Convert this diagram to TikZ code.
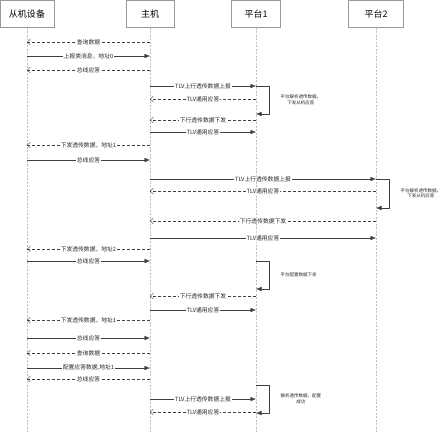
\documentclass[tikz,border=0pt]{standalone}
\usepackage{fontspec}
\setmainfont{Noto Sans CJK SC}
\usetikzlibrary{arrows.meta,calc}
\tikzset{
  actor/.style={draw=gray!80,fill=white,minimum height=27pt,inner sep=1pt,font=\fontsize{9}{10}\selectfont},
  life/.style={gray!50,dash pattern=on 2pt off 1.5pt,thin},
  call/.style={-{Latex[length=5.5pt,width=4.5pt]},black!75,thin},
  reply/.style={-{Straight Barb[length=3pt,width=5.5pt]},black!75,thin,dash pattern=on 3pt off 2pt},
  lbl/.style={fill=white,inner sep=0.8pt,font=\fontsize{5.8}{6}\selectfont,text=black!85},
  note/.style={align=center,anchor=west,font=\fontsize{4.5}{5.5}\selectfont,text=black!85},
}
\newcommand{\msg}[5]{% style, from, to, y, text
  \draw[#1] (#2 |- 0,#4) -- (#3 |- 0,#4) node[lbl,midway] {#5};
}
\newcommand{\selfloop}[4]{% lifeline, y1, y2, note
  \draw[call] (#1 |- 0,#2) -- ++(13,0) |- (#1 |- 0,#3);
  \node[note] at ($(#1 |- 0,#2)!0.5!(#1 |- 0,#3)+(21,0)$) {#4};
}

\begin{document}
\begin{tikzpicture}[x=1pt,y=-1pt]
  \useasboundingbox (0,0) rectangle (443,432);
  \foreach \n/\x/\w/\t in {slave/27/54/从机设备,host/150/48/主机,pa/256/49/平台1,pb/376/55/平台2}
    \node[actor,minimum width=\w pt] (\n) at (\x,13.8) {\t};
  \foreach \n in {slave,host,pa,pb}
    \draw[life] (\n.south) -- (\n |- 0,432);

  \msg{reply}{host}{slave}{42}{查询数据}
  \msg{call}{slave}{host}{56}{上报类消息，地址0}
  \msg{reply}{host}{slave}{70}{总线应答}
  \msg{call}{host}{pa}{86}{TLV上行透传数据上报}
  \msg{reply}{pa}{host}{99}{TLV通用应答}
  \selfloop{pa}{86}{114}{平台解析透传数据，\\下发从机应答}
  \msg{reply}{pa}{host}{120}{下行透传数据下发}
  \msg{call}{host}{pa}{132}{TLV通用应答}
  \msg{reply}{host}{slave}{145}{下发透传数据，地址1}
  \msg{call}{slave}{host}{160}{总线应答}

  \msg{call}{host}{pb}{179}{TLV上行透传数据上报}
  \msg{reply}{pb}{host}{191}{TLV通用应答}
  \selfloop{pb}{179}{208}{平台解析透传数据，\\下发从机应答}
  \msg{reply}{pb}{host}{221}{下行透传数据下发}
  \msg{call}{host}{pb}{238}{TLV通用应答}
  \msg{reply}{host}{slave}{249}{下发透传数据，地址2}
  \msg{call}{slave}{host}{261}{总线应答}

  \selfloop{pa}{261}{289}{平台配置数据下发}
  \msg{reply}{pa}{host}{296}{下行透传数据下发}
  \msg{call}{host}{pa}{310}{TLV通用应答}
  \msg{reply}{host}{slave}{320}{下发透传数据，地址1}
  \msg{call}{slave}{host}{338}{总线应答}
  \msg{reply}{host}{slave}{353}{查询数据}
  \msg{call}{slave}{host}{368}{配置应答数据,地址1}
  \msg{reply}{host}{slave}{379}{总线应答}

  \selfloop{pa}{385}{413}{解析透传数据，配置\\成功}
  \msg{call}{host}{pa}{399}{TLV上行透传数据上报}
  \msg{reply}{pa}{host}{412}{TLV通用应答}
\end{tikzpicture}
\end{document}
